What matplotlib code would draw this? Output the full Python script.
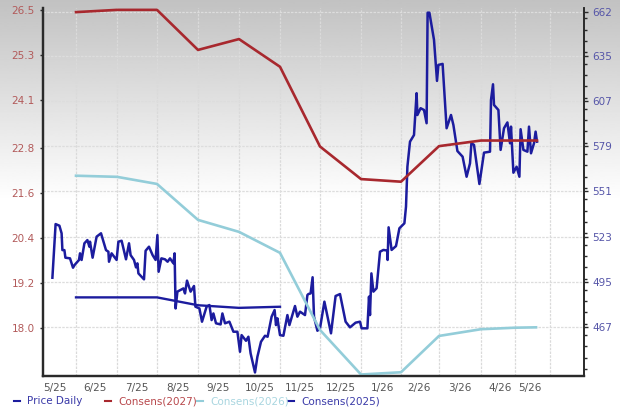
import numpy as np
import matplotlib
matplotlib.use("Agg")
import matplotlib.pyplot as plt
from matplotlib.lines import Line2D
from matplotlib.ticker import MultipleLocator

# x is in trading sessions, counted from the first price point
month_labels = ["5/25", "6/25", "7/25", "8/25", "9/25", "10/25", "11/25",
                "12/25", "1/26", "2/26", "3/26", "4/26", "5/26"]
label_sessions = [1.5, 21.5, 42.5, 63, 83, 104, 124, 144.5, 165, 183.5, 204, 224, 239]
month_starts = [12, 32.5, 52.5, 73, 93.5, 114, 134, 154.5, 174.5, 193.5, 214.5, 231.5, 249]

left_ticks = [18.0, 19.2, 20.4, 21.6, 22.8, 24.1, 25.3, 26.5]
right_ticks = [467, 495, 523, 551, 579, 607, 635, 662]

# consensus estimates, monthly (left axis)
cons_x_2027 = [12, 32.5, 52.5, 73, 93.5, 114, 134, 154.5, 174.5, 193.5, 214.5, 231.5, 242.5]
cons_2027 = [26.44, 26.5, 26.5, 25.43, 25.72, 24.98, 22.85, 21.98, 21.91, 22.86, 23.01, 23.01, 23.01]
cons_x_2026 = [12, 32.5, 52.5, 73, 93.5, 114, 134, 154.5, 174.5, 193.5, 214.5, 231.5, 242]
cons_2026 = [22.07, 22.04, 21.85, 20.89, 20.57, 20.01, 17.95, 16.76, 16.82, 17.79, 17.97, 18.01, 18.02]
cons_x_2025 = [12, 32.5, 52.5, 73, 93.5, 114]
cons_2025 = [18.82, 18.82, 18.82, 18.61, 18.54, 18.57]

# daily price (right axis)
price_x = [0.2, 1.8, 3.7, 4.8, 5.2, 6.2, 6.7, 9, 10.5, 11.3, 13.5, 14, 14.8, 16.2, 17.7, 18.7, 19, 20.3,
           22.3, 24.5, 27, 28.2, 28.5, 29.8, 32.3, 33.2, 34.8, 37, 38.5, 39.3, 41, 42, 42.7, 43.2, 46,
           46.8, 48.5, 50.3, 51.8, 52.7, 53.3, 54.7, 56.5, 57.8, 59, 60.7, 61.3, 61.8, 62.7, 65.7, 66.5,
           67.5, 69.3, 71, 71.7, 73.7, 75, 77.3, 78.7, 79.8, 80.7, 82, 84.3, 85.2, 86.5, 88.7, 90.7,
           92.7, 94, 94.8, 97, 98.2, 99.3, 101.5, 102.7, 104.5, 106.5, 107.8, 109.8, 111.3, 112, 112.7,
           114, 115.7, 117.7, 118.7, 121.5, 122.7, 124, 126.5, 127.7, 128.2, 129.3, 130.3, 131, 132.7,
           134, 136.2, 139.5, 141.8, 144, 146.8, 149, 151.8, 154, 154.8, 157.7, 158.5, 159, 159.7,
           160.7, 162.3, 164, 165.7, 167.7, 167.8, 168.3, 169.8, 172, 173.7, 176.2, 177, 177.7, 179,
           181, 182.3, 182.7, 184.3, 186, 187.3, 187.8, 188.7, 191, 192.5, 193.2, 195.3, 197.3, 199.5,
           200.7, 202.7, 205.3, 207.3, 209, 209.7, 211, 213.7, 216, 219, 219.5, 220.5, 221, 223.2,
           224.3, 226, 227.7, 229, 229.5, 230.7, 232.3, 233.7, 234.3, 235.7, 237.7, 238.5, 239.5, 241,
           241.8, 242.5]
price = [497.5, 530.7, 529.7, 525, 514.6, 514.6, 509.9, 509.5, 503.7, 505.4, 508.5, 512.6, 508.5, 518.8,
         520.8, 516.7, 519.8, 509.9, 522.9, 525, 514.6, 513.6, 507.4, 512.6, 508.5, 519.8, 520.4, 508.9,
         518.8, 511.5, 508.5, 503.9, 506.4, 500.2, 496.5, 514.2, 516.7, 511.5, 508.5, 523.9, 501.2, 509.5,
         508.9, 507.4, 509.5, 506.4, 512.6, 478.5, 488.9, 490.9, 487.8, 495.7, 488.9, 492.4, 479.6, 478.5,
         470.3, 479.6, 480.6, 471.3, 475.4, 469.3, 468.6, 475.4, 469.3, 470.3, 464.1, 464.1, 451.7, 462,
         458.5, 461, 450.7, 438.9, 448.6, 457.9, 461.6, 461, 473.4, 477.5, 468.2, 472.4, 462, 461.6, 474.4,
         468.2, 480, 473.4, 476.5, 474.4, 486.8, 487.4, 487.8, 497.8, 473.4, 464.7, 466.2, 482.7, 463.1,
         486.2, 487.4, 470.3, 466.8, 469.7, 470.3, 466.2, 466.2, 485.8, 474.4, 500.2, 488.9, 491, 513.6,
         514.7, 514.3, 508.5, 528.7, 514.7, 517.1, 528.1, 531.2, 541.5, 566.2, 581.7, 585.8, 611.7, 598.2,
         602.4, 601.3, 593.1, 661.5, 661.5, 644.7, 619.3, 629.2, 629.8, 590, 598.2, 592, 575.9, 572.4, 560,
         568.3, 580.7, 579.7, 555.5, 574.9, 575.5, 607.5, 617.2, 604.4, 601.3, 576.6, 590, 593.6, 580.7,
         591, 562.5, 566.2, 560, 589.4, 576.6, 575.5, 591, 574.5, 580.7, 587.9, 581.7]

RED = "#a8282e"
LIGHT = "#93cdd9"
NAVY = "#1c1c9e"
DARK = "#2a2a2a"

fig = plt.figure(figsize=(6.2, 4.18), dpi=100)

# grey to white backdrop behind everything
bg = fig.add_axes([0, 0, 1, 1], zorder=-1)
shade = np.clip(np.linspace(0.76, 1.26, 256), 0, 1).reshape(-1, 1)
bg.imshow(shade, cmap="gray", vmin=0, vmax=1, aspect="auto")
bg.axis("off")

# price axes sit underneath so the grid stays behind the price line
ax = fig.add_axes([43 / 620, 42 / 418, 541 / 620, 368 / 418])
ax.patch.set_visible(False)
cons_ax = ax.twinx()
cons_ax.patch.set_visible(False)

ax.plot(price_x, price, color=NAVY, lw=1.8, solid_joinstyle="round")
cons_ax.plot(cons_x_2026, cons_2026, color=LIGHT, lw=1.9)
cons_ax.plot(cons_x_2025, cons_2025, color=NAVY, lw=1.7)
cons_ax.plot(cons_x_2027, cons_2027, color=RED, lw=1.9)

ax.set_xlim(-4.5, 266)
ax.set_ylim(436.7, 664.4)
cons_ax.set_ylim(16.72, 26.55)

ax.set_xticks(label_sessions)
ax.set_xticklabels(month_labels, fontsize=7.5, color="#555555")
ax.set_xticks(month_starts, minor=True)
ax.tick_params(axis="x", which="both", length=0, pad=5)

ax.yaxis.tick_right()
ax.set_yticks(right_ticks)
ax.set_yticklabels([str(v) for v in right_ticks], fontsize=7.5, color="#5555a8")
ax.yaxis.set_minor_locator(MultipleLocator(7))
ax.tick_params(axis="y", which="major", length=3, width=1, color=DARK, pad=3)
ax.tick_params(axis="y", which="minor", length=2, width=1, color=DARK)

cons_ax.yaxis.tick_left()
cons_ax.set_yticks(left_ticks)
cons_ax.set_yticklabels([f"{v:.1f}" for v in left_ticks], fontsize=7.5, color="#b25a5a")
cons_ax.tick_params(axis="y", length=2, width=1, color=DARK, pad=4)

ax.grid(True, axis="x", which="minor", color="#dadada", lw=0.9, ls=(0, (2, 1)))
ax.grid(True, axis="y", which="major", color="#dddddd", lw=0.9, ls=(0, (2, 1)))
ax.set_axisbelow(True)

for a in (ax, cons_ax):
    a.spines["top"].set_visible(False)
    a.spines["left"].set_linewidth(1.6)
    a.spines["left"].set_color(DARK)
    a.spines["bottom"].set_linewidth(1.6)
    a.spines["bottom"].set_color(DARK)
    a.spines["right"].set_linewidth(1.2)
    a.spines["right"].set_color(DARK)

# legend row under the axis
legend_names = ["Price Daily", "Consens(2027)", "Consens(2026)", "Consens(2025)"]
legend_colors = ["#3a3aa8", "#b8484c", "#a9d6e0", "#3a3aa8"]
legend_marks = [NAVY, RED, LIGHT, NAVY]
legend_starts = [14, 105, 197, 288]
for name, col, mark, x0 in zip(legend_names, legend_colors, legend_marks, legend_starts):
    fig.add_artist(Line2D([x0 / 620, (x0 + 6) / 620], [17 / 418, 17 / 418], color=mark, lw=1.5))
    fig.text((x0 + 13) / 620, 17 / 418, name, fontsize=7.5, color=col, va="center", ha="left")

fig.savefig("out.png", dpi=100)
